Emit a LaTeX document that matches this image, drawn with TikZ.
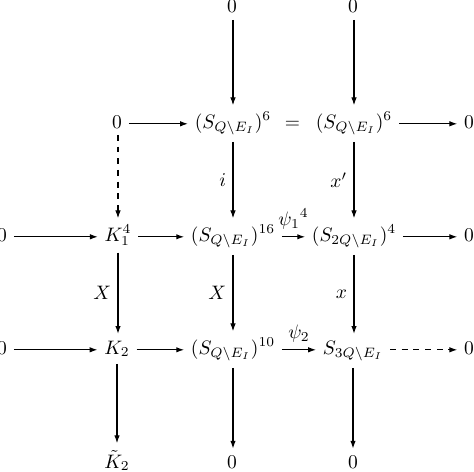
\documentclass[tikz,border=0pt]{standalone}
\usepackage{amsmath,amssymb}
\usetikzlibrary{arrows.meta}
\begin{document}
\begin{tikzpicture}[x=0.513pt,y=-0.513pt,
  obj/.style={anchor=base,inner sep=3.33pt},
  arr/.style={-{Latex[length=4pt,width=2.8pt]}, line width=0.55pt},
  darr/.style={arr, dashed}]
\useasboundingbox (0,0) rectangle (474,471);
% row 0
\node[obj] (t2) at (232,13) {$0$};
\node[obj] (t3) at (353,13) {$0$};
% row 1
\node[obj] (a1) at (117,128) {$0$};
\node[obj] (a2) at (233,128) {$(S_{Q\setminus E_I})^6$};
\node[obj] (eq) at (292.5,128) {$=$};
\node[obj] (a3) at (354,128) {$(S_{Q\setminus E_I})^6$};
\node[obj] (a4) at (469,128) {$0$};
% row 2
\node[obj] (b0) at (2,241) {$0$};
\node[obj] (b1) at (118,241) {$K_1^4$};
\node[obj] (b2) at (233,241) {$(S_{Q\setminus E_I})^{16}$};
\node[obj] (b3) at (354,241) {$(S_{2Q\setminus E_I})^4$};
\node[obj] (b4) at (469,241) {$0$};
% row 3
\node[obj] (c0) at (2,354) {$0$};
\node[obj] (c1) at (117,354) {$K_2$};
\node[obj] (c2) at (233,354) {$(S_{Q\setminus E_I})^{10}$};
\node[obj] (c3) at (353,354) {$S_{3Q\setminus E_I}$};
\node[obj] (c4) at (469,354) {$0$};
% row 4
\node[obj] (d1) at (117,468) {$\tilde{K}_2$};
\node[obj] (d2) at (232,468) {$0$};
\node[obj] (d3) at (353,468) {$0$};
% horizontal
\draw[arr] (a1.mid east) -- (a2.mid west);
\draw[arr] (a3.mid east) -- (a4.mid west);
\draw[arr] (b0.mid east) -- (b1.mid west);
\draw[arr] (b1.mid east) -- (b2.mid west);
\draw[arr] (b2.mid east) -- node[above] {${\psi_1}^4$} (b3.mid west);
\draw[arr] (b3.mid east) -- (b4.mid west);
\draw[arr] (c0.mid east) -- (c1.mid west);
\draw[arr] (c1.mid east) -- (c2.mid west);
\draw[arr] (c2.mid east) -- node[above] {$\psi_2$} (c3.mid west);
\draw[darr] (c3.mid east) -- (c4.mid west);
% vertical
\draw[darr] (a1.south -| b1.north) -- (b1.north);
\draw[arr] (b1.south) -- node[left] {$X$} (b1.south |- c1.north);
\draw[arr] (c1.south) -- (c1.south |- d1.north);
\draw[arr] (t2.south -| a2.north) -- (a2.north);
\draw[arr] (a2.south) -- node[left] {$i$} (a2.south |- b2.north);
\draw[arr] (b2.south) -- node[left] {$X$} (b2.south |- c2.north);
\draw[arr] (c2.south) -- (c2.south |- d2.north);
\draw[arr] (t3.south -| a3.north) -- (a3.north);
\draw[arr] (a3.south) -- node[left] {$x'$} (a3.south |- b3.north);
\draw[arr] (b3.south) -- node[left] {$x$} (b3.south |- c3.north);
\draw[arr] (c3.south) -- (c3.south |- d3.north);
\end{tikzpicture}
\end{document}
